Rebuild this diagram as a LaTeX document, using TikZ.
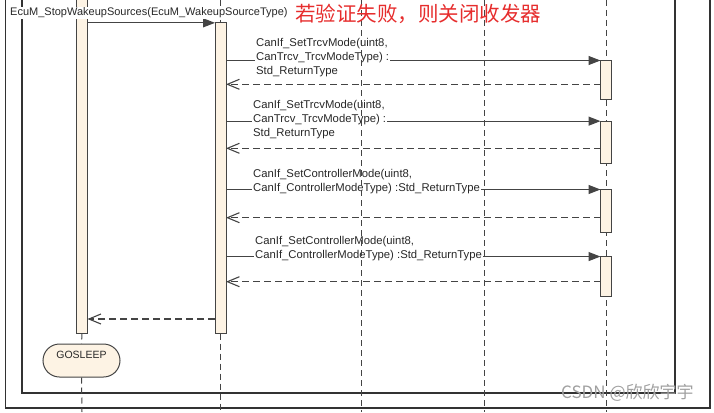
\documentclass[tikz,border=0pt]{standalone}
\usepackage{fontspec}
\setmainfont{Liberation Sans}
\newfontfamily\cjk{Noto Sans CJK SC}
\usetikzlibrary{arrows.meta}
\definecolor{barc}{RGB}{253,243,228}
\definecolor{linec}{RGB}{68,68,68}
\definecolor{framec}{RGB}{50,50,50}
\definecolor{txtc}{RGB}{40,40,40}
\definecolor{redc}{RGB}{230,45,45}
\definecolor{wmc}{RGB}{160,160,160}
\begin{document}
\begin{tikzpicture}[x=1pt,y=-1pt,
  frame/.style={draw=framec,line width=1.3pt},
  actbar/.style={draw=linec,fill=barc,line width=1pt,minimum width=10pt,inner sep=0pt},
  lifeline/.style={draw=linec,line width=1pt,dash pattern=on 6pt off 4pt},
  call/.style={draw=linec,line width=1.2pt,-{Triangle[length=12pt,width=9pt]}},
  ret/.style={draw=linec,line width=1.1pt,dash pattern=on 7pt off 4pt,-{Straight Barb[length=12pt,width=10pt]}},
  lbl/.style={font=\fontsize{11.3}{14}\selectfont,text=txtc,fill=white,inner sep=1pt,align=left,anchor=west},
  stnode/.style={draw=linec,fill=barc,line width=1pt,rounded corners=16.5pt,minimum width=77pt,minimum height=33pt,inner sep=0pt,font=\fontsize{10.5}{12}\selectfont,text=txtc,text height=7.5pt,text depth=12pt}
]
\useasboundingbox (0,0) rectangle (714,412);
\clip (0,0) rectangle (714,412);

% frames
\draw[frame] (5.5,-20) rectangle (710,408);
\draw[frame] (22,-20) rectangle (675,393);

% bars (defined first for names, drawn later on top)
\path
  node[actbar,minimum height=353pt,draw=none,fill=none] (ea) at (82,156.5) {}
  node[actbar,minimum height=309.7pt,draw=none,fill=none] (cb) at (220.5,178.2) {}
  node[actbar,minimum height=38pt,draw=none,fill=none] (t1) at (606,80) {}
  node[actbar,minimum height=41.3pt,draw=none,fill=none] (t2) at (606,142.3) {}
  node[actbar,minimum height=42pt,draw=none,fill=none] (t3) at (606,211) {}
  node[actbar,minimum height=39.3pt,draw=none,fill=none] (t4) at (606,276.7) {};

\coordinate (r1) at (0,84.3);
\coordinate (r2) at (0,148.3);
\coordinate (r3) at (0,217.7);
\coordinate (r4) at (0,281.7);
\coordinate (r5) at (0,319);

% messages
\draw[call] (ea.east |- cb.north) -- (cb.north west);
\draw[call] (cb.east |- t1.north) -- (t1.north west);
\draw[ret] (t1.west |- r1) -- (cb.east |- r1);
\draw[call] (cb.east |- t2.north) -- (t2.north west);
\draw[ret] (t2.west |- r2) -- (cb.east |- r2);
\draw[call] (cb.east |- t3.north) -- (t3.north west);
\draw[ret] (t3.west |- r3) -- (cb.east |- r3);
\draw[call] (cb.east |- t4.north) -- (t4.north west);
\draw[ret] (t4.west |- r4) -- (cb.east |- r4);
\draw[ret] (cb.west |- r5) -- (ea.east |- r5);

% message labels
\node[lbl] (m1) at (255,57.3) {CanIf\_SetTrcvMode(uint8,\\CanTrcv\_TrcvModeType) :\\Std\_ReturnType};
\node[lbl] (m2) at (252,120) {CanIf\_SetTrcvMode(uint8,\\CanTrcv\_TrcvModeType) :\\Std\_ReturnType};
\node[lbl] (m3) at (252,181.3) {CanIf\_SetControllerMode(uint8,\\CanIf\_ControllerModeType) :Std\_ReturnType};
\node[lbl] (m4) at (254,248.7) {CanIf\_SetControllerMode(uint8,\\CanIf\_ControllerModeType) :Std\_ReturnType};

% GOSLEEP state
\node[stnode] (gs) at (81.5,360.5) {GOSLEEP};

% lifelines
\coordinate (l3t) at (361,0);
\coordinate (l3b) at (361,412);
\coordinate (l4t) at (484,0);
\coordinate (l4b) at (484,412);
\coordinate (l5t) at (606,0);
\coordinate (l5b) at (606,412);
\coordinate (l1b) at (82,412);
\coordinate (l2b) at (220.5,412);
\coordinate (l2t) at (220.5,0);
\draw[lifeline] (l3t) -- (l3b);
\draw[lifeline] (l4t) -- (l4b);
\draw[lifeline] (l5t) -- (l5b);
\draw[lifeline] (ea.south) -- (gs.north);
\draw[lifeline] (gs.south) -- (l1b);
\draw[lifeline] (l2t) -- (cb.north);
\draw[lifeline] (cb.south) -- (l2b);

% bars drawn
\foreach \b in {ea,cb,t1,t2,t3,t4}{
  \draw[draw=linec,fill=barc,line width=1pt] (\b.north west) rectangle (\b.south east);
}

% top texts
\node[lbl,font=\fontsize{11}{14}\selectfont] (top) at (9,12.7) {EcuM\_StopWakeupSources(EcuM\_WakeupSourceType)};
\node[font=\cjk\fontsize{20.5}{22}\selectfont,text=redc,anchor=west,inner sep=0pt] (note) at (295,14) {若验证失败，则关闭收发器};
\node[font=\cjk\fontsize{17}{19}\selectfont,text=wmc,anchor=west,inner sep=0pt] (wm) at (561,392.5) {CSDN @欣欣宇宇};
\end{tikzpicture}
\end{document}
